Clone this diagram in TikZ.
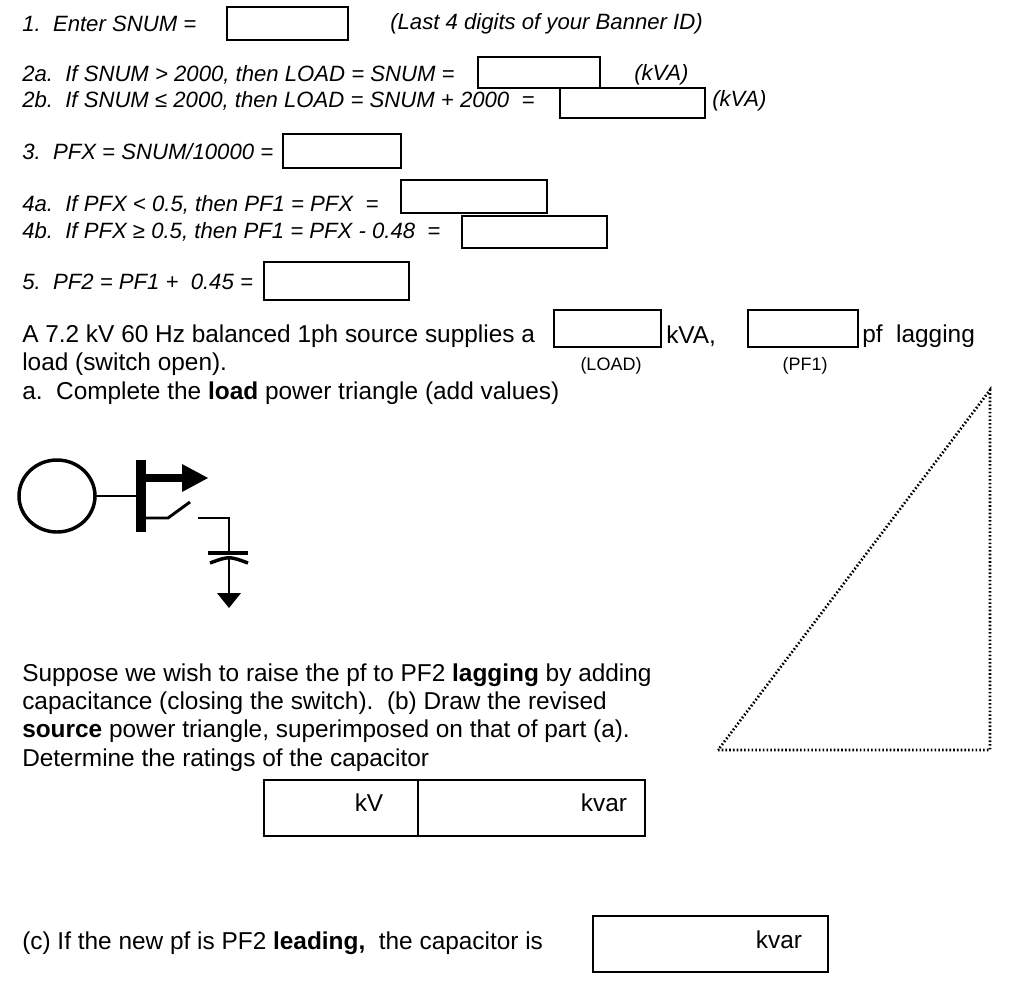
\documentclass[tikz,border=0pt]{standalone}
\usepackage{fontspec}
\setmainfont{Liberation Sans}
\begin{document}
\begin{tikzpicture}[x=0.75pt,y=-0.75pt,
 it/.style={anchor=west,inner sep=0,font=\fontsize{16.6}{18}\selectfont\itshape},
 tx/.style={anchor=west,inner sep=0,font=\fontsize{18.3}{20}\selectfont},
 sm/.style={inner sep=0,font=\fontsize{13.5}{15}\selectfont},
 bx/.style={draw,line width=0.8pt},
 dot/.style={line width=2pt,dash pattern=on 1.2pt off 1.6pt}]
\useasboundingbox (0,0) rectangle (1024,997);
% header lines
\node[it] (t1) at (22,24) {1.\ \ Enter SNUM =};
\draw[bx] (227,7) rectangle (348,40);
\node[it] (t1b) at (390,24) {(Last 4 digits of your Banner ID)};
\node[it] (t2a) at (22,75) {2a.\ \ If SNUM > 2000, then LOAD = SNUM =};
\draw[bx] (478,57) rectangle (600,88);
\node[it] (k2a) at (634,75) {(kVA)};
\node[it] (t2b) at (22,101) {2b.\ \ If SNUM ≤ 2000, then LOAD = SNUM + 2000\ \ =};
\draw[bx] (560,88) rectangle (705,118);
\node[it] (k2b) at (712,101) {(kVA)};
\node[it] (t3) at (22,152) {3.\ \ PFX = SNUM/10000 =};
\draw[bx] (283,134) rectangle (401,168);
\node[it] (t4a) at (22,205) {4a.\ \ If PFX < 0.5, then PF1 = PFX\ \ =};
\draw[bx] (401,180) rectangle (547,213);
\node[it] (t4b) at (22,232) {4b.\ \ If PFX ≥ 0.5, then PF1 = PFX - 0.48\ \ =};
\draw[bx] (462,216) rectangle (607,248);
\node[it] (t5) at (22,282) {5.\ \ PF2 = PF1 +\ \ 0.45 =};
\draw[bx] (264,262) rectangle (409,300);
% problem
\node[tx] (p1) at (22,336) {A 7.2 kV 60 Hz balanced 1ph source supplies a};
\draw[bx] (554,310) rectangle (661,347);
\node[tx] (p2) at (666,336) {kVA,};
\draw[bx] (748,310) rectangle (858,347);
\node[tx] (p3) at (862,336) {pf\ \ lagging};
\node[tx] (p4) at (22,364) {load (switch open).};
\node[sm] (lo) at (611,366) {(LOAD)};
\node[sm] (pf) at (805,366) {(PF1)};
\node[tx] (p5) at (22,393) {a.\ \ Complete the \textbf{load} power triangle (add values)};
% circuit
\draw[line width=2.6pt] (57,496) ellipse (38 and 36);
\draw[line width=2.2pt] (95,496) -- (137,496);
\draw[line width=8pt] (141,460) -- (141,532);
\draw[line width=6pt] (141,478) -- (185,478);
\fill (182,464) -- (208,478) -- (182,492) -- cycle;
\draw[line width=2.2pt] (141,518) -- (168,518) -- (190,502);
\draw[line width=2.2pt] (198,518) -- (229,518) -- (229,553);
\draw[line width=2.6pt] (208,553) -- (248,553);
\draw[line width=2.6pt] (210,563) .. controls (229,556) .. (248,563);
\draw[line width=2.2pt] (229,559) -- (229,595);
\fill (217,593) -- (241,593) -- (229,608) -- cycle;
% triangle
\coordinate (A) at (718,750); \coordinate (B) at (990,750); \coordinate (C) at (990,390);
\draw[dot] (A) -- (B) -- (C) -- cycle;
% paragraph
\node[tx] (s1) at (22,675) {Suppose we wish to raise the pf to PF2 \textbf{lagging} by adding};
\node[tx] (s2) at (22,703) {capacitance (closing the switch).\ \ (b) Draw the revised};
\node[tx] (s3) at (22,731) {\textbf{source} power triangle, superimposed on that of part (a).};
\node[tx] (s4) at (22,760) {Determine the ratings of the capacitor};
\draw[bx] (264,780) rectangle (418,836);
\draw[bx] (418,780) rectangle (645,836);
\node[tx,anchor=center] (kv) at (369,803) {kV};
\node[tx,anchor=center] (kvar) at (604,803) {kvar};
\node[tx] (c1) at (22,943) {(c) If the new pf is PF2 \textbf{leading,}\ \ the capacitor is};
\draw[bx] (593,916) rectangle (828,972);
\node[tx,anchor=center] (kvar2) at (779,940) {kvar};
\end{tikzpicture}
\end{document}
